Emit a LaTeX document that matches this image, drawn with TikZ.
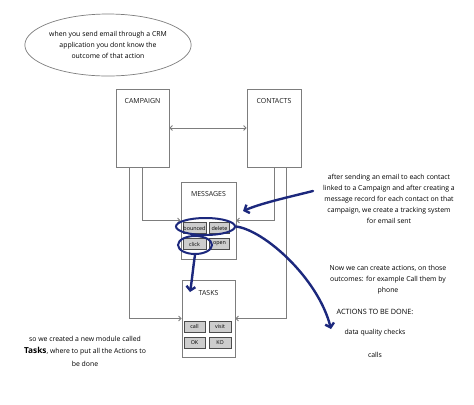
\documentclass[tikz,border=0pt]{standalone}
\usepackage{fontspec}
\setmainfont{Open Sans}
\usetikzlibrary{arrows.meta,shapes.geometric}
\definecolor{ink}{RGB}{28,40,125}
\definecolor{edge}{RGB}{125,125,125}
\definecolor{btnfill}{RGB}{205,205,205}
\begin{document}
\begin{tikzpicture}[x=1bp,y=-1bp,
  box/.style={draw=edge, fill=white, line width=0.8bp, inner sep=0},
  lbl/.style={font=\fontsize{7}{8}\selectfont, inner sep=0, text=black!90},
  btn/.style={draw=black!70, fill=btnfill, line width=0.6bp, minimum height=10.5bp, inner sep=0, font=\fontsize{5.4}{6}\selectfont},
  txt/.style={font=\fontsize{6.9}{11}\selectfont, align=center, inner sep=0, text=black},
  conn/.style={draw=edge, line width=0.8bp},
  tipg/.style={-{Straight Barb[length=2.5bp,width=5bp]}},
  hl/.style={draw=ink, line width=2.4bp, line cap=round},
  hltip/.style={-{Straight Barb[length=4bp,width=9bp]}}
]
\useasboundingbox[fill=white] (0,0) rectangle (474,404);

% thought bubble
\node[ellipse, draw=edge, line width=0.7bp, minimum width=132bp, minimum height=62bp, align=center,
      font=\fontsize{6.9}{11}\selectfont, inner sep=0, text=black] (bubble) at (108,45)
  {when you send email through a CRM\\application you dont know the\\outcome of that action};

% main boxes
\node[box, minimum width=53bp, minimum height=78bp] (campaign) at (142.5,128) {};
\node[box, minimum width=54bp, minimum height=78bp] (contacts) at (274,128) {};
\node[box, minimum width=55bp, minimum height=77bp] (messages) at (208.5,220.5) {};
\node[box, minimum width=53bp, minimum height=77bp] (tasks) at (208.5,318.5) {};

\node[lbl, anchor=north] (campaignlbl) at ([yshift=-10bp]campaign.north) {CAMPAIGN};
\node[lbl, anchor=north] (contactslbl) at ([yshift=-10bp]contacts.north) {CONTACTS};
\node[lbl, anchor=north] (messageslbl) at ([yshift=-10bp]messages.north) {MESSAGES};
\node[lbl, anchor=north] (taskslbl) at ([yshift=-11bp]tasks.north) {TASKS};

% buttons in MESSAGES
\node[btn, minimum width=23bp] (bounced) at (194.5,228) {bounced};
\node[btn, minimum width=20bp] (delete) at (219.5,228) {delete};
\node[btn, minimum width=23bp] (click) at (194.5,244) {click};
\node[btn, minimum width=20bp] (open) at (219.5,244) {open};

% buttons in TASKS
\node[btn, minimum width=21bp, minimum height=11bp] (call) at (194.5,326.5) {call};
\node[btn, minimum width=22bp, minimum height=11bp] (visit) at (220,326.5) {visit};
\node[btn, minimum width=21bp, minimum height=11bp] (ok) at (194.5,343) {OK};
\node[btn, minimum width=22bp, minimum height=11bp] (ko) at (220,343) {KO};

% grey connectors
\draw[conn, {Straight Barb[length=2.5bp,width=5bp]}-{Straight Barb[length=2.5bp,width=5bp]}] (campaign.east) -- (contacts.west);
\draw[conn, tipg] (campaign.south) |- (messages.west);
\draw[conn, tipg] ([xshift=-13bp]campaign.south) |- (tasks.west);
\draw[conn, tipg] (contacts.south) |- (messages.east);
\draw[conn, tipg] ([xshift=12bp]contacts.south) |- (tasks.east);

% text notes
\node[txt] (note2) at (389,199) {after sending an email to each contact\\linked to a Campaign and after creating a\\message record for each contact on that\\campaign, we create a tracking system\\for email sent};
\node[txt] (note3) at (388,280) {Now we can create actions, on those\\outcomes: for example Call them by\\phone};
\node[txt, font=\fontsize{7.3}{11}\selectfont] (actions) at (375,312) {ACTIONS TO BE DONE:};
\node[txt] (dq) at (375,333) {data quality checks};
\node[txt] (calls) at (375,355) {calls};
\node[txt, font=\fontsize{6.9}{12.5}\selectfont] (note4) at (85,351) {so we created a new module called\\{\fontsize{8.3}{12.5}\selectfont\bfseries Tasks}, where to put all the Actions to\\be done};

% blue highlights
\node[ellipse, draw=ink, line width=2bp, minimum width=59bp, minimum height=17bp, inner sep=0] (hl1) at (205.5,226.5) {};
\node[ellipse, draw=ink, line width=2bp, minimum width=34bp, minimum height=18bp, inner sep=0] (hl2) at (195,245) {};

\coordinate (a1s) at (313,191);
\coordinate (a1e) at (243,211);
\draw[hl, hltip] (a1s) .. controls (285,198) and (262,203) .. (a1e);

\coordinate (a2e) at (331,329);
\draw[hl, hltip] (hl1.east) .. controls (264,230) and (318,278) .. (a2e);

\coordinate (a3e) at (190,292);
\draw[hl, hltip] (hl2.south) .. controls (193,268) and (192,280) .. (a3e);
\end{tikzpicture}
\end{document}
